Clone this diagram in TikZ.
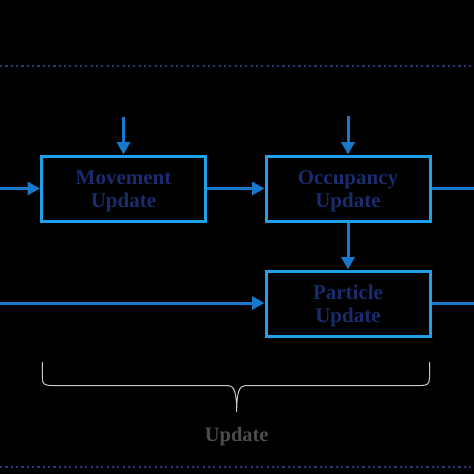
\documentclass[tikz,border=0pt]{standalone}
\usepackage{fontspec}
\setmainfont{Liberation Serif}
\usetikzlibrary{arrows.meta}
\definecolor{boxblue}{HTML}{20A0E6}
\definecolor{arrblue}{HTML}{1878CC}
\definecolor{navy}{HTML}{1A2B6E}
\definecolor{dotblue}{HTML}{27387F}
\definecolor{bracegrey}{HTML}{C8C8C8}
\definecolor{labgrey}{HTML}{4D4D4D}
\newcommand{\toprule}{\rule{0pt}{19pt}}
\tikzset{
  blk/.style={draw=boxblue, line width=3pt, minimum width=164pt, minimum height=65pt,
    inner sep=0pt, align=center, text=navy, font=\fontsize{21}{23}\selectfont\bfseries},
  arr/.style={draw=arrblue, line width=3pt, -{Triangle[length=12.5pt,width=13pt]}},
  ln/.style={draw=arrblue, line width=3pt},
  dots/.style={draw=dotblue, line width=2.2pt, dash pattern=on 2.2pt off 3.13pt},
}
\begin{document}
\begin{tikzpicture}[x=1pt,y=-1pt]
\fill[black] (0,0) rectangle (474,474);
\useasboundingbox (0,0) rectangle (474,474);
\draw[dots] (0,65.7) -- (474,65.7);
\draw[dots] (0,466.7) -- (474,466.7);
\node[blk] (mov) at (123.5,188.5) {\toprule Movement\\Update};
\node[blk] (occ) at (348,188.5) {\toprule Occupancy\\Update};
\node[blk] (par) at (348,303.5) {\toprule Particle\\Update};
\coordinate (inL1) at (0,188.5);
\coordinate (inL2) at (0,303);
\coordinate (outR1) at (474,188.5);
\coordinate (outR2) at (474,303);
\coordinate (topM) at (123.5,117);
\coordinate (topO) at (348,116);
\draw[arr] (inL1) -- (mov.west);
\draw[arr] (mov.east) -- (occ.west);
\draw[ln] (occ.east) -- (outR1);
\draw[arr] (topM) -- (mov.north);
\draw[arr] (topO) -- (occ.north);
\draw[arr] (occ.south) -- (par.north);
\draw[arr] (inL2) -- (inL2 -| par.west);
\draw[ln] (par.east |- outR2) -- (outR2);
\draw[bracegrey, line width=1pt]
  (42.3,362) -- (42.3,378) .. controls (42.3,384) and (45,385.5) .. (51,385.5)
  -- (228,385.5) .. controls (234,385.5) and (236.7,392) .. (236.7,412)
  .. controls (236.7,392) and (239.4,385.5) .. (245.4,385.5)
  -- (421,385.5) .. controls (427,385.5) and (429.5,384) .. (429.5,378) -- (429.5,362);
\node[text=labgrey, font=\fontsize{20.5}{25}\selectfont\bfseries, inner sep=0pt, anchor=base] (upd) at (236.7,441) {Update};
\end{tikzpicture}
\end{document}
